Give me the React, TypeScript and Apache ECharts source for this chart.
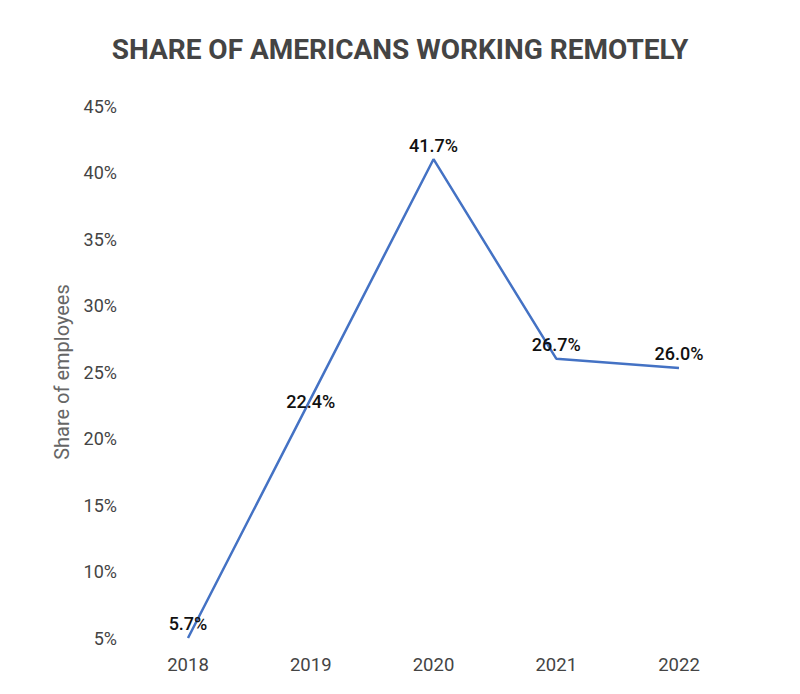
import React, { useEffect, useRef } from 'react';
import * as echarts from 'echarts';

const years = ['2018', '2019', '2020', '2021', '2022'];
// where the line is drawn in the picture
const shareValues = [5.0, 23.0, 41.0, 26.0, 25.3];
// text printed beside each point
const shareLabels = ['5.7%', '22.4%', '41.7%', '26.7%', '26.0%'];
const yTicks = { min: 5, max: 45, interval: 5 };

const App: React.FC = () => {
  const chartRef = useRef<HTMLDivElement>(null);

  useEffect(() => {
    if (!chartRef.current) return;
    const chart = echarts.init(chartRef.current, null, { renderer: 'svg' });

    const option = {
      animation: false,
      title: {
        text: 'SHARE OF AMERICANS WORKING REMOTELY',
        left: 'center',
        top: 30,
        textStyle: {
          fontFamily: 'Roboto',
          fontSize: 28,
          fontWeight: 'bold',
          color: '#444444'
        }
      },
      grid: {
        left: 188,
        right: 121,
        top: 106,
        bottom: 56
      },
      xAxis: {
        type: 'category',
        data: years,
        boundaryGap: false,
        axisLine: { show: false },
        axisTick: { show: false },
        axisLabel: {
          margin: 17,
          fontFamily: 'Roboto',
          fontSize: 18.5,
          color: '#444444'
        }
      },
      yAxis: {
        type: 'value',
        min: yTicks.min,
        max: yTicks.max,
        interval: yTicks.interval,
        name: 'Share of employees',
        nameLocation: 'middle',
        nameGap: 116,
        nameTextStyle: {
          fontFamily: 'Roboto',
          fontSize: 20,
          color: '#666666'
        },
        axisLine: { show: false },
        axisTick: { show: false },
        splitLine: { show: false },
        axisLabel: {
          margin: 71,
          fontFamily: 'Roboto',
          fontSize: 18,
          color: '#444444',
          formatter: '{value}%'
        }
      },
      series: [
        {
          type: 'line',
          data: shareValues.map((v, i) => ({
            value: v,
            label: i === 1 ? { position: 'inside', offset: [0, 3] } : undefined
          })),
          showSymbol: true,
          symbol: 'circle',
          symbolSize: 0.1,
          lineStyle: { color: '#4472C4', width: 2.5 },
          itemStyle: { color: '#4472C4' },
          label: {
            show: true,
            position: 'top',
            distance: 5,
            fontFamily: 'Roboto',
            fontSize: 18,
            fontWeight: 500,
            color: '#111111',
            formatter: (p: any) => shareLabels[p.dataIndex]
          }
        }
      ]
    };

    chart.setOption(option);

    return () => {
      chart.dispose();
    };
  }, []);

  return <div ref={chartRef} style={{ width: 800, height: 694, margin: -8 }} />;
};

export default App;
